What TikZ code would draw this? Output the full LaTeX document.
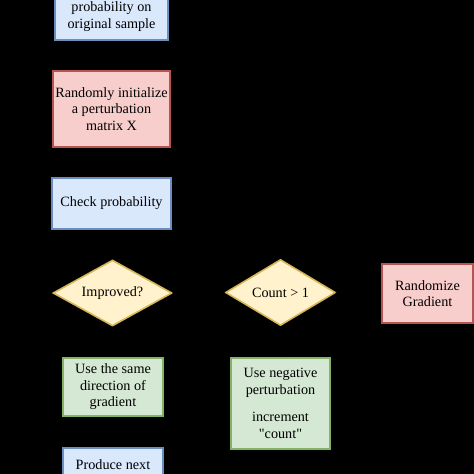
\documentclass[tikz,border=0pt]{standalone}
\usepackage{fontspec}
\setmainfont{Liberation Serif}
\usetikzlibrary{shapes.geometric,arrows.meta}
\definecolor{bluefill}{HTML}{DAE8FC}
\definecolor{bluedraw}{HTML}{6C8EBF}
\definecolor{redfill}{HTML}{F8CECC}
\definecolor{reddraw}{HTML}{B85450}
\definecolor{yelfill}{HTML}{FFF2CC}
\definecolor{yeldraw}{HTML}{D6B656}
\definecolor{grnfill}{HTML}{D5E8D4}
\definecolor{grndraw}{HTML}{82B366}
\tikzset{
  every node/.style={font=\fontsize{14.2}{16.5}\selectfont, text=black, align=center, inner sep=0pt},
  boxbase/.style={rectangle, line width=1.6pt},
  bluebox/.style={boxbase, fill=bluefill, draw=bluedraw},
  redbox/.style={boxbase, fill=redfill, draw=reddraw},
  grnbox/.style={boxbase, fill=grnfill, draw=grndraw},
  decision/.style={diamond, line width=1.6pt, fill=yelfill, draw=yeldraw, shape aspect=1.8},
  flow/.style={draw=black, line width=1pt, -{Stealth[length=6pt]}}
}
\begin{document}
\begin{tikzpicture}[x=1pt,y=-1pt]
\fill[black] (0,0) rectangle (474,474);
\useasboundingbox (0,0) rectangle (474,474);
\clip (0,0) rectangle (474,474);
% top box (cut off)
\node[bluebox, minimum width=113pt, minimum height=80pt] (b1) at (111.5,0) {};
\node (b1t) at (111.5,16.5) {probability on\\original sample};
\node[redbox, minimum width=117pt, minimum height=76pt] (b2) at (111.5,109) {Randomly initialize\\a perturbation\\matrix X};
\node[bluebox, minimum width=119pt, minimum height=51pt] (b3) at (111.5,203.5) {Check probability};
\node[decision, minimum width=119pt, minimum height=66pt] (d1) at (112.5,293) {Improved?};
\node[decision, minimum width=110pt, minimum height=66pt] (d2) at (280.5,292.5) {Count \textgreater{} 1};
\node[redbox, minimum width=91pt, minimum height=59pt] (rg) at (427.5,293.5) {Randomize\\Gradient};
\node[grnbox, minimum width=100pt, minimum height=58pt] (g1) at (113,387) {Use the same\\direction of\\gradient};
\node[grnbox, minimum width=99pt, minimum height=91pt] (g2) at (280.5,403.5) {Use negative\\perturbation\\[11pt]increment\\\textquotedbl count\textquotedbl};
\node[bluebox, minimum width=100pt, minimum height=60pt] (pn) at (113,478) {};
\node (pnt) at (113,465) {Produce next};
\coordinate (loopa) at (30,478);
\coordinate (loopb) at (30,203.5);
% connectors (black, as in the reference)
\draw[flow] (b1) -- (b2);
\draw[flow] (b2) -- (b3);
\draw[flow] (b3) -- (d1);
\draw[flow] (d1) -- (g1);
\draw[flow] (d1) -- (d2);
\draw[flow] (d2) -- (rg);
\draw[flow] (d2) -- (g2);
\draw[flow] (g1) -- (pn);
\draw[flow] (pn.west) -- (loopa) -- (loopb) -- (b3.west);
\end{tikzpicture}
\end{document}
